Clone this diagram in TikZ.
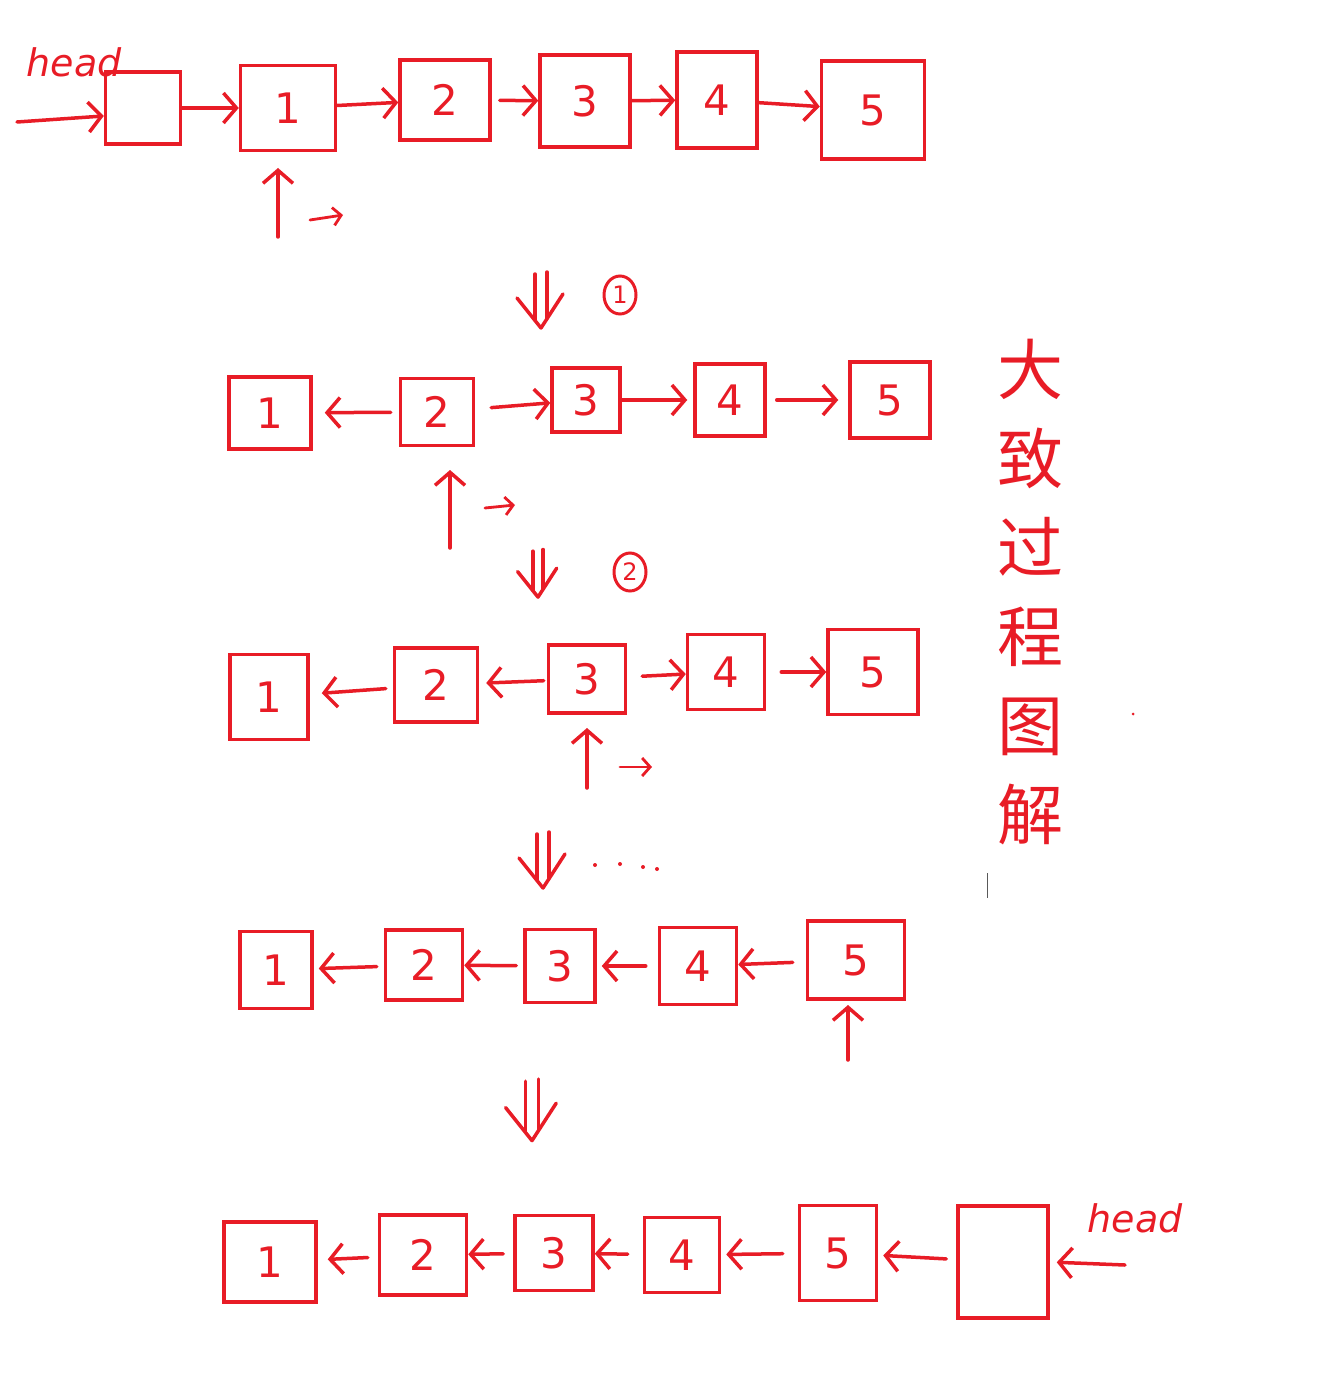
\documentclass[tikz,border=0pt]{standalone}
\usepackage{fontspec}
\setmainfont{DejaVu Sans}
\newfontfamily\cjk{Noto Sans CJK SC}
\usetikzlibrary{arrows.meta,shapes.geometric}
\definecolor{pen}{RGB}{232,28,38}
\begin{document}
\begin{tikzpicture}[x=1pt,y=-1pt,
  lbox/.style={draw=pen, line width=3.5pt, inner sep=0pt, text=pen,
    font=\fontsize{42}{42}\selectfont},
  arr/.style={draw=pen, line width=3.5pt, line cap=round,
    -{Straight Barb[length=13pt,width=30pt]}},
  sarr/.style={draw=pen, line width=2.8pt, line cap=round,
    -{Straight Barb[length=8pt,width=18pt]}},
  lbl/.style={text=pen, inner sep=0pt, font=\fontsize{38}{38}\selectfont\itshape},
  circnum/.style={ellipse, draw=pen, line width=3pt, text=pen, inner sep=2pt,
    minimum width=32pt, minimum height=38pt,
    font=\fontsize{24}{24}\selectfont},
  dn/.pic={
    \draw[pen, line width=3.5pt, line cap=round] (-6,-28)--(-6,18) (6,-30)--(6,16);
    \draw[pen, line width=3.5pt, line cap=round, line join=round] (-24,-4)--(0,26)--(22,-8);
  }]
\useasboundingbox (0,0) rectangle (1331,1380);

% ---------- row 1 ----------
\node[lbl] (hd1) at (74,62) {head};
\node[lbox, minimum width=75pt, minimum height=72pt] (h1) at (143,108) {};
\node[lbox, minimum width=95pt, minimum height=85pt] (n11) at (288,108) {1};
\node[lbox, minimum width=90pt, minimum height=80pt] (n12) at (445,100) {2};
\node[lbox, minimum width=90pt, minimum height=92pt] (n13) at (585,101) {3};
\node[lbox, minimum width=80pt, minimum height=96pt] (n14) at (717,100) {4};
\node[lbox, minimum width=103pt, minimum height=98pt] (n15) at (873,110) {5};
\coordinate (in1) at (17,122);
\draw[arr] (in1) -- ([yshift=-8pt]h1.west);
\draw[arr] (h1) -- (n11);
\draw[arr] (n11) -- (n12);
\draw[arr, shorten <=8pt] (n12) -- (n13);
\draw[arr] (n13) -- (n14);
\draw[arr] (n14) -- (n15);
\coordinate (p1a) at (278,237); \coordinate (p1b) at (278,168);
\draw[arr] (p1a) -- (p1b);
\coordinate (q1a) at (310,220); \coordinate (q1b) at (343,215);
\draw[sarr] (q1a) -- (q1b);

\pic at (541,302) {dn};
\node[circnum] (c1) at (620,295) {1};

% ---------- row 2 ----------
\node[lbox, minimum width=82pt, minimum height=72pt] (n21) at (270,413) {1};
\node[lbox, minimum width=73pt, minimum height=67pt] (n22) at (437,412) {2};
\node[lbox, minimum width=68pt, minimum height=64pt] (n23) at (586,400) {3};
\node[lbox, minimum width=70pt, minimum height=72pt] (n24) at (730,400) {4};
\node[lbox, minimum width=80pt, minimum height=76pt] (n25) at (890,400) {5};
\draw[arr, shorten <=8pt, shorten >=12pt] (n22) -- (n21);
\draw[arr, shorten <=16pt] (n22) -- (n23);
\draw[arr, shorten >=6pt] (n23) -- (n24);
\draw[arr, shorten <=10pt, shorten >=10pt] (n24) -- (n25);
\coordinate (p2a) at (450,548); \coordinate (p2b) at (450,470);
\draw[arr] (p2a) -- (p2b);
\coordinate (q2a) at (485,508); \coordinate (q2b) at (515,505);
\draw[sarr] (q2a) -- (q2b);

\pic[scale=0.85] at (538,575) {dn};
\node[circnum] (c2) at (630,572) {2};

% ---------- row 3 ----------
\node[lbox, minimum width=78pt, minimum height=85pt] (n31) at (269,697) {1};
\node[lbox, minimum width=83pt, minimum height=74pt] (n32) at (436,685) {2};
\node[lbox, minimum width=77pt, minimum height=68pt] (n33) at (587,679) {3};
\node[lbox, minimum width=77pt, minimum height=75pt] (n34) at (726,672) {4};
\node[lbox, minimum width=90pt, minimum height=85pt] (n35) at (873,672) {5};
\draw[arr, shorten <=7pt, shorten >=12pt] (n32) -- (n31);
\draw[arr, shorten <=3pt, shorten >=7pt] (n33) -- (n32);
\draw[arr, shorten <=15pt] (n33) -- (n34);
\draw[arr, shorten <=15pt] (n34) -- (n35);
\coordinate (p3a) at (587,788); \coordinate (p3b) at (587,728);
\draw[arr] (p3a) -- (p3b);
\coordinate (q3a) at (620,767); \coordinate (q3b) at (652,767);
\draw[sarr] (q3a) -- (q3b);

\pic at (543,862) {dn};
\foreach \x/\y in {595/865, 620/864, 643/867, 657/869}
  \fill[pen] (\x,\y) circle[radius=2pt];

% ---------- row 4 ----------
\node[lbox, minimum width=72pt, minimum height=77pt] (n41) at (276,970) {1};
\node[lbox, minimum width=77pt, minimum height=70pt] (n42) at (424,965) {2};
\node[lbox, minimum width=70pt, minimum height=73pt] (n43) at (560,966) {3};
\node[lbox, minimum width=77pt, minimum height=77pt] (n44) at (698,966) {4};
\node[lbox, minimum width=97pt, minimum height=78pt] (n45) at (856,960) {5};
\draw[arr, shorten <=7pt, shorten >=5pt] (n42) -- (n41);
\draw[arr, shorten <=7pt] (n43) -- (n42);
\draw[arr, shorten <=12pt, shorten >=5pt] (n44) -- (n43);
\draw[arr, shorten <=13pt] (n45) -- (n44);
\coordinate (p4a) at (848,1060); \coordinate (p4b) at (848,1005);
\draw[arr] (p4a) -- (p4b);

\pic[scale=1.1] at (532,1112) {dn};

% ---------- row 5 ----------
\node[lbox, minimum width=92pt, minimum height=80pt] (n51) at (270,1262) {1};
\node[lbox, minimum width=87pt, minimum height=80pt] (n52) at (423,1255) {2};
\node[lbox, minimum width=78pt, minimum height=75pt] (n53) at (554,1253) {3};
\node[lbox, minimum width=75pt, minimum height=75pt] (n54) at (682,1255) {4};
\node[lbox, minimum width=77pt, minimum height=95pt] (n55) at (838,1253) {5};
\node[lbox, minimum width=90pt, minimum height=112pt] (h5) at (1003,1262) {};
\node[lbl] (hd5) at (1135,1218) {head};
\draw[arr, shorten <=10pt, shorten >=10pt] (n52) -- (n51);
\draw[arr, shorten <=10pt] (n53) -- (n52);
\draw[arr, shorten <=15pt] (n54) -- (n53);
\draw[arr, shorten <=15pt, shorten >=5pt] (n55) -- (n54);
\draw[arr, shorten <=10pt, shorten >=5pt] (h5) -- (n55);
\coordinate (in5) at (1125,1265);
\draw[arr, shorten >=7pt] (in5) -- (h5.east);

% ---------- side caption ----------
\node[text=pen, inner sep=0pt, align=center,
  font=\cjk\fontsize{66}{89}\selectfont] (cap) at (1030,592)
  {大\\致\\过\\程\\图\\解};
\fill[pen] (1133,714) circle[radius=1.5pt];
\coordinate (cur1) at (987,873); \coordinate (cur2) at (987,898);
\draw[gray!70!black, line width=1pt] (cur1) -- (cur2);
\end{tikzpicture}
\end{document}
